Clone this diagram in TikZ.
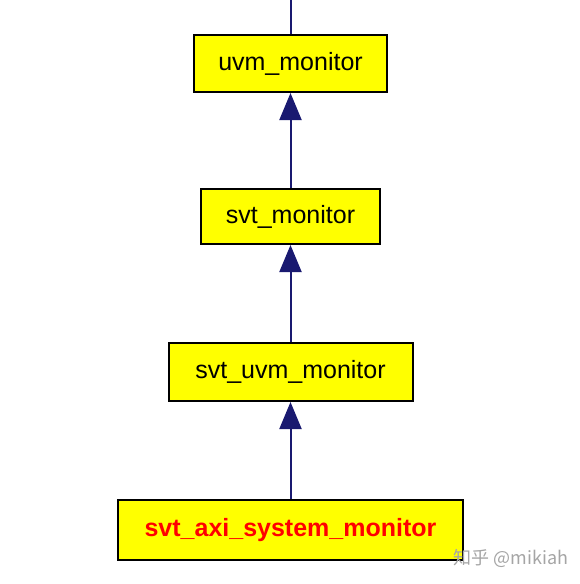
\documentclass[tikz,border=0pt]{standalone}
\usepackage{fontspec}
\setmainfont{Liberation Sans}
\newfontfamily\cjk{Noto Sans CJK SC}
\usetikzlibrary{arrows.meta}
\definecolor{edgeblue}{RGB}{25,25,112}
\definecolor{boxyellow}{RGB}{255,255,0}
\definecolor{wmgrey}{RGB}{165,165,165}
\tikzset{
  classbox/.style={draw=black, line width=2pt, fill=boxyellow, inner sep=0pt,
    font=\fontsize{25}{29}\selectfont, text=black},
  mainbox/.style={classbox, font=\bfseries\fontsize{25}{29}\selectfont, text=red},
  inherit/.style={draw=edgeblue, line width=2pt, -{Triangle[length=27pt,width=22pt,fill=edgeblue]}},
}
\begin{document}
\begin{tikzpicture}[x=1pt,y=-1pt]
\useasboundingbox (0,0) rectangle (580,584);
\node[classbox, minimum width=193pt, minimum height=57pt] (uvm) at (290.5,63.5) {uvm\_monitor};
\node[classbox, minimum width=179pt, minimum height=55pt] (svt) at (290.5,216.5) {svt\_monitor};
\node[classbox, minimum width=244pt, minimum height=58pt] (svtuvm) at (290.5,372) {svt\_uvm\_monitor};
\node[mainbox, minimum width=345pt, minimum height=60pt] (axi) at (290.5,530) {svt\_axi\_system\_monitor};
\coordinate (top) at (290.5,0);
\draw[draw=edgeblue, line width=2pt] (uvm.north) -- (top);
\draw[inherit] (svt.north) -- (uvm.south);
\draw[inherit] (svtuvm.north) -- (svt.south);
\draw[inherit] (axi.north) -- (svtuvm.south);
\node[text=wmgrey, font=\cjk\fontsize{18}{20}\selectfont, anchor=center] (wm) at (511,558) {知乎 @mikiah};
\end{tikzpicture}
\end{document}
